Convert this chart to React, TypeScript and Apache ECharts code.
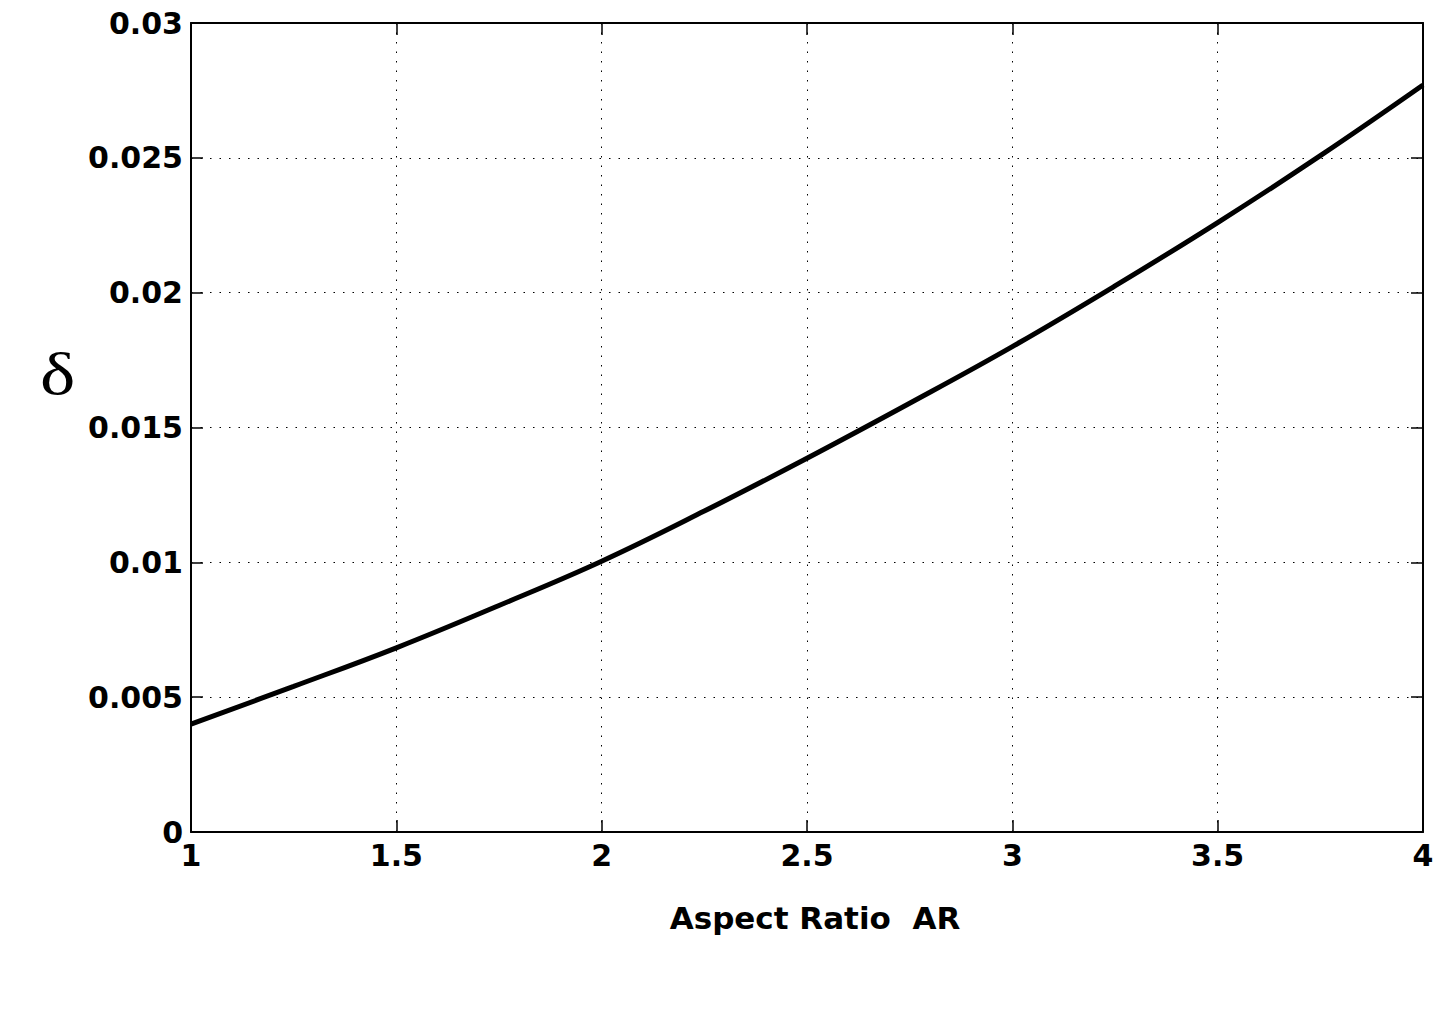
import React, { useEffect, useRef } from "react";
import * as echarts from "echarts";

const arValues = [1, 1.25, 1.5, 1.75, 2, 2.25, 2.5, 2.75, 3, 3.25, 3.5, 3.75, 4];
const deltaValues = [0.004, 0.0054, 0.00683, 0.0084, 0.01004, 0.0119, 0.01386, 0.0159, 0.018, 0.02025, 0.0226, 0.02508, 0.0277];
const xTicks = [1, 1.5, 2, 2.5, 3, 3.5, 4];
const yTicks = [0, 0.005, 0.01, 0.015, 0.02, 0.025, 0.03];
const xLabel = "Aspect Ratio  AR";
const yLabel = "δ";

const FONT = "DejaVu Sans";

export default function App() {
  const ref = useRef<HTMLDivElement>(null);
  useEffect(() => {
    if (!ref.current) return;
    const chart = echarts.init(ref.current, undefined, { renderer: "svg" });
    const data = arValues.map((x, i) => [x, deltaValues[i]]);
    const labelStyle = {
      fontFamily: FONT,
      fontWeight: "bold" as const,
      fontSize: 30,
      color: "#000",
    };
    const splitLine = {
      show: true,
      lineStyle: { color: "#000", width: 1, type: [1.5, 8] as number[] },
    };
    const tick = { show: true, inside: true, length: 12, lineStyle: { color: "#000", width: 1.5 } };
    const axisLine = { show: true, onZero: false, lineStyle: { color: "#000", width: 2 } };
    chart.setOption({
      animation: false,
      backgroundColor: "#fff",
      grid: { left: 191, right: 17, top: 23, bottom: 196, containLabel: false },
      xAxis: [
        {
          type: "value",
          min: xTicks[0],
          max: xTicks[xTicks.length - 1],
          interval: 0.5,
          position: "bottom",
          axisLine,
          axisTick: tick,
          splitLine,
          axisLabel: { ...labelStyle, margin: 8, formatter: (v: number) => String(v) },
          name: xLabel,
          nameLocation: "middle",
          nameGap: 70,
          nameTextStyle: { ...labelStyle, fontSize: 31, padding: [0, 0, 0, 16] },
        },
        {
          type: "value",
          min: xTicks[0],
          max: xTicks[xTicks.length - 1],
          interval: 0.5,
          position: "top",
          axisLine,
          axisTick: tick,
          splitLine: { show: false },
          axisLabel: { show: false },
        },
      ],
      yAxis: [
        {
          type: "value",
          min: yTicks[0],
          max: yTicks[yTicks.length - 1],
          interval: 0.005,
          position: "left",
          axisLine,
          axisTick: tick,
          splitLine,
          axisLabel: { ...labelStyle, margin: 8, formatter: (v: number) => String(+v.toFixed(3)) },
        },
        {
          type: "value",
          min: yTicks[0],
          max: yTicks[yTicks.length - 1],
          interval: 0.005,
          position: "right",
          axisLine,
          axisTick: tick,
          splitLine: { show: false },
          axisLabel: { show: false },
        },
      ],
      graphic: [
        {
          type: "text",
          x: 40,
          y: 344,
          scaleX: 1.25,
          style: {
            text: yLabel,
            font: '60px "Liberation Serif"',
            fill: "#000",
            textVerticalAlign: "top",
          },
        },
      ],
      series: [
        {
          type: "line",
          data,
          smooth: 0.4,
          showSymbol: false,
          symbol: "none",
          lineStyle: { color: "#000", width: 5 },
          xAxisIndex: 0,
          yAxisIndex: 0,
        },
      ],
    });
    return () => chart.dispose();
  }, []);
  return (
    <div
      ref={ref}
      style={{ position: "fixed", left: 0, top: 0, width: 1440, height: 1028, background: "#fff" }}
    />
  );
}
